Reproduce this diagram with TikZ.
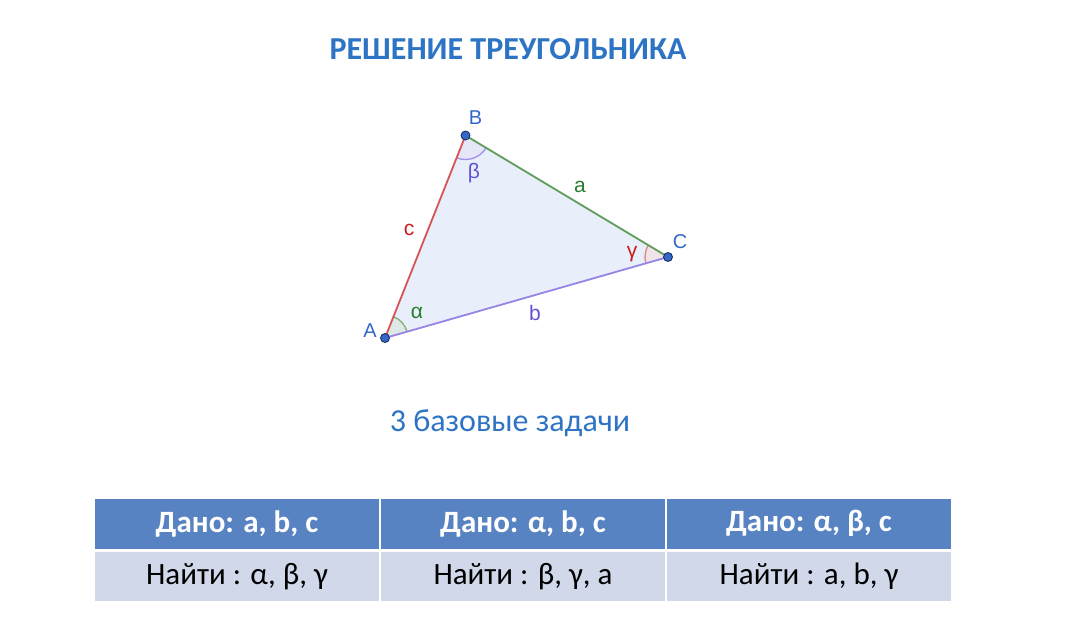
\documentclass[tikz,border=0pt]{standalone}
\usepackage{fontspec}
\setmainfont{Carlito}
\newfontfamily\geofont{Liberation Sans}
\usetikzlibrary{angles}
\definecolor{titleblue}{RGB}{46,116,196}
\definecolor{ptblue}{RGB}{52,104,200}
\definecolor{ptdark}{RGB}{20,40,90}
\definecolor{trifill}{RGB}{232,239,250}
\definecolor{edgec}{RGB}{214,84,84}
\definecolor{edgea}{RGB}{96,156,90}
\definecolor{edgeb}{RGB}{150,132,230}
\definecolor{labc}{RGB}{200,30,30}
\definecolor{laba}{RGB}{40,125,45}
\definecolor{labb}{RGB}{100,80,215}
\definecolor{hdrblue}{RGB}{88,131,194}
\definecolor{rowblue}{RGB}{208,216,233}
\tikzset{
  ptlabel/.style={font=\geofont\fontsize{20}{20}\selectfont, text=ptblue, inner sep=0pt},
  sidelabel/.style={font=\geofont\fontsize{21}{21}\selectfont, inner sep=0pt},
  vertex/.style={circle, fill=ptblue, draw=ptdark, line width=0.8pt, minimum size=9pt, inner sep=0pt},
  hdrcell/.style={rectangle, fill=hdrblue, minimum width=284pt, minimum height=50pt, inner sep=0pt,
    text=white, font=\bfseries\fontsize{31}{31}\selectfont},
  rowcell/.style={rectangle, fill=rowblue, minimum width=284pt, minimum height=49pt, inner sep=0pt,
    text=black, font=\fontsize{31}{31}\selectfont},
}
\begin{document}
\begin{tikzpicture}[x=1pt,y=-1pt]
\useasboundingbox (0,0) rectangle (1079,644);
\fill[white] (0,0) rectangle (1079,644);
% title
\node[text=titleblue, font=\bfseries\fontsize{32}{32}\selectfont] (title) at (508,49) {РЕШЕНИЕ ТРЕУГОЛЬНИКА};
% triangle points
\coordinate (A) at (385,338);
\coordinate (B) at (465.5,135.5);
\coordinate (C) at (668,257);
\fill[trifill] (A) -- (B) -- (C) -- cycle;
% angle sectors
\pic[draw=edgea!80, fill=edgea!25, fill opacity=0.6, line width=1.3pt, angle radius=23pt] {angle = C--A--B};
\pic[draw=edgeb!90, fill=edgeb!25, fill opacity=0.6, line width=1.3pt, angle radius=24pt] {angle = A--B--C};
\pic[draw=edgec!70, fill=edgec!20, fill opacity=0.6, line width=1.3pt, angle radius=23pt] {angle = B--C--A};
% edges
\draw[edgec, line width=1.8pt] (A) -- (B);
\draw[edgea, line width=1.8pt] (B) -- (C);
\draw[edgeb, line width=1.8pt] (C) -- (A);
% vertices
\node[vertex] (vA) at (A) {};
\node[vertex] (vB) at (B) {};
\node[vertex] (vC) at (C) {};
% labels
\node[ptlabel] (lA) at (370,331) {A};
\node[ptlabel] (lB) at (475.5,118) {B};
\node[ptlabel] (lC) at (680,242) {C};
\node[sidelabel, text=labc] (lc) at (409,230) {c};
\node[sidelabel, text=laba] (la) at (580,187) {a};
\node[sidelabel, text=labb] (lb) at (535,313) {b};
\node[sidelabel, text=laba] (lal) at (417,313) {α};
\node[sidelabel, text=labb] (lbe) at (474,173) {β};
\node[sidelabel, text=labc] (lga) at (632,254) {γ};
% subtitle
\node[text=titleblue, font=\fontsize{32}{32}\selectfont] (sub) at (510,423) {3 базовые задачи};
% table
\node[hdrcell] (h1) at (237,523.5) {Дано: a, b, c};
\node[hdrcell] (h2) at (523,523.5) {Дано: α, b, c};
\node[hdrcell] (h3) at (809,523.5) {Дано: α, β, c};
\node[rowcell] (r1) at (237,576.5) {Найти : α, β, γ};
\node[rowcell] (r2) at (523,576.5) {Найти : β, γ, a};
\node[rowcell] (r3) at (809,576.5) {Найти : a, b, γ};
\end{tikzpicture}
\end{document}
